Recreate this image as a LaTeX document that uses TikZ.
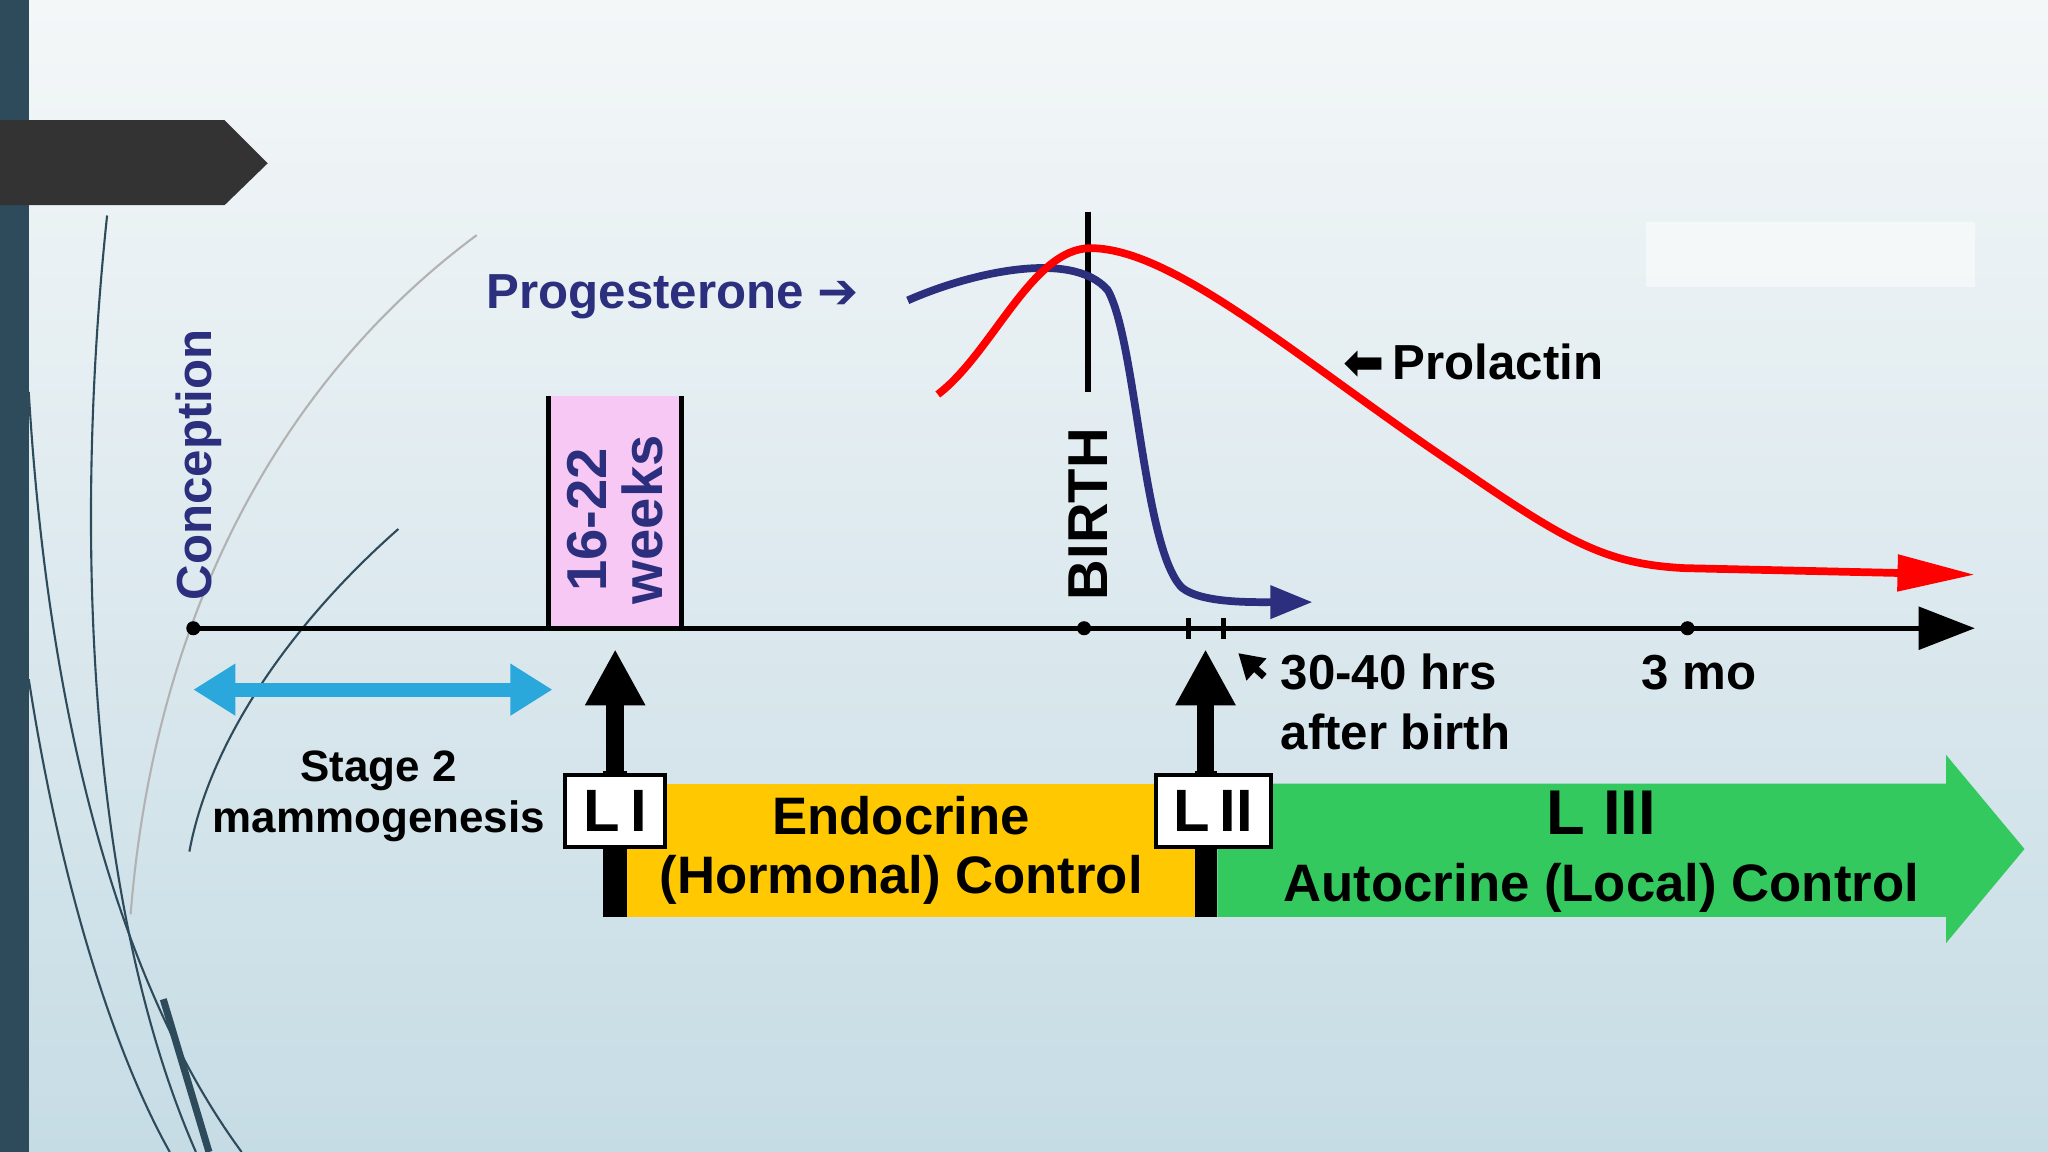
\documentclass[tikz,border=0pt]{standalone}
\usepackage{fontspec}
\setmainfont{Liberation Sans}
\usetikzlibrary{arrows.meta}
\definecolor{navy}{HTML}{2B2F7E}
\definecolor{bgtop}{HTML}{F4F7F8}
\definecolor{bgbot}{HTML}{C6DCE5}
\definecolor{sidebar}{HTML}{2E4B5C}
\definecolor{endoyellow}{RGB}{255,200,0}
\definecolor{gbar}{HTML}{34C95E}
\definecolor{lblue}{HTML}{2AA8DC}
\definecolor{pinkb}{HTML}{F8C8F4}
\tikzset{
  lbl/.style={font=\bfseries\fontsize{14}{16}\selectfont, inner sep=0pt},
  big/.style={font=\bfseries\fontsize{15}{17}\selectfont, align=center, inner sep=0pt},
  dot/.style={circle, fill=black, inner sep=0pt, minimum size=4pt},
  lbox/.style={draw=black, line width=1.2pt, fill=white, inner sep=2pt, font=\bfseries\fontsize{17}{19}\selectfont},
  uparr/.style={line width=5pt, -{Triangle[width=16pt,length=16pt]}},
  deco/.style={sidebar, line width=0.6pt}
}
\begin{document}
\begin{tikzpicture}[x=0.013061cm, y=-0.013061cm]
\useasboundingbox (0,0) rectangle (1568,882);
\shade[top color=bgtop, bottom color=bgbot] (0,0) rectangle (1568,882);
\fill[sidebar] (0,0) rectangle (22,882);
\fill[white, opacity=0.5] (1260,170) rectangle (1512,220);
% decorative curves
\draw[deco] (82,165) .. controls (55,420) and (70,700) .. (150,882);
\draw[deco] (22,300) .. controls (40,600) and (110,780) .. (185,882);
\draw[deco, gray!60] (365,180) .. controls (230,280) and (120,450) .. (100,700);
\draw[deco] (305,405) .. controls (220,480) and (160,570) .. (145,652);
\draw[deco] (22,520) .. controls (50,700) and (95,820) .. (130,882);
\draw[deco, line width=2pt] (125,765) -- (160,882);
% dark tab
\fill[black!80] (0,92) -- (172,92) -- (205,125) -- (172,157) -- (0,157) -- cycle;
% pink box
\fill[pinkb] (420,303) rectangle (522,481);
\draw[line width=1.5pt] (420,303) -- (420,481) (522,303) -- (522,481);
\node[rotate=90, navy, font=\bfseries\fontsize{16}{16}\selectfont, align=center] (wk) at (471,398) {16-22\\weeks};
% axis
\coordinate (a0) at (148,481);
\coordinate (a1) at (1512,481);
\draw[line width=1.5pt, -{Triangle[width=12pt,length=16pt]}] (a0) -- (a1);
\node[dot] (conc) at (148,481) {};
\node[dot] (birthdot) at (830,481) {};
\node[dot] (mo) at (1292,481) {};
\node[rotate=90, navy, lbl, anchor=west] (concl) at (152,460) {Conception};
% birth line
\draw[line width=1.5pt] (833,162) -- (833,300);
\node[rotate=90, lbl, anchor=west, font=\bfseries\fontsize{16}{16}\selectfont] (birth) at (833,460) {BIRTH};
% curves
\draw[navy, line width=2.2pt, -{Triangle[width=9pt,length=12pt]}] (695,230) .. controls (740,210) and (820,190) .. (848,222) .. controls (870,260) and (875,420) .. (905,450) .. controls (920,462) and (960,461) .. (1005,461);
\draw[red, line width=2.2pt, -{Triangle[width=10pt,length=22pt]}] (718,302) .. controls (760,270) and (790,190) .. (835,190) .. controls (900,190) and (1000,280) .. (1120,360) .. controls (1200,415) and (1230,432) .. (1290,435) -- (1512,440);
\node[navy, lbl, anchor=west] (prog) at (372,227) {Progesterone \fontspec{DejaVu Sans}\bfseries ➔};
\node[lbl, anchor=west] (prol) at (1028,277) {\fontspec{DejaVu Sans}\bfseries ⬅\,\fontspec{Liberation Sans}\bfseries Prolactin};
% blue double arrow
\draw[lblue, line width=4pt, {Triangle[width=14pt,length=12pt]}-{Triangle[width=14pt,length=12pt]}] (148,528) -- (423,528);
\node[font=\bfseries\fontsize{12.5}{14.5}\selectfont, align=center] (stage) at (290,610) {Stage 2\\mammogenesis};
% bars
\fill[black] (462,590) rectangle (480,702);
\fill[black] (915,590) rectangle (932,702);
\path[fill=endoyellow] (480,600) rectangle (915,702);
\path[fill=gbar] (932,600) -- (1490,600) -- (1490,578) -- (1550,650) -- (1490,722) -- (1490,702) -- (932,702) -- cycle;
\draw[uparr] (471,592) -- (471,497);
\draw[uparr] (923,592) -- (923,497);
\node[lbox, minimum width=1cm, minimum height=0.72cm] (L1) at (471,621) {L\,I};
\node[lbox, minimum width=1.15cm, minimum height=0.72cm] (L2) at (929,621) {L\,II};
\node[big] (endo) at (690,651) {Endocrine\\(Hormonal) Control};
\node[big, font=\bfseries\fontsize{15}{19}\selectfont] (auto) at (1226,652) {{\fontsize{18}{19}\selectfont L III}\\Autocrine (Local) Control};
% 30-40 hrs
\draw[line width=1.5pt] (910,473) -- (910,489) (937,473) -- (937,489) (910,481) -- (937,481);
\node[lbl, font=\bfseries\fontsize{14}{17}\selectfont, align=left, anchor=north west] (hrs) at (980,500) {30-40 hrs\\after birth};
\coordinate (hs) at (968,518);
\draw[line width=2pt, -{Triangle[width=8pt,length=7pt]}] (hs) -- (948,500);
\node[lbl] (mol) at (1301,515) {3 mo};
\end{tikzpicture}
\end{document}
